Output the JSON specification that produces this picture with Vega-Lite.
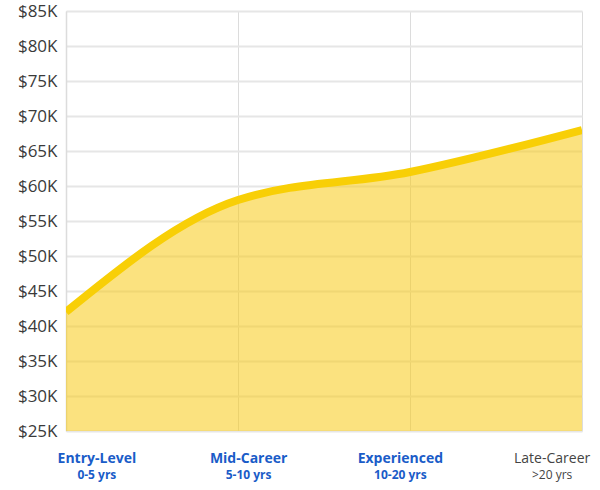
{
  "$schema": "https://vega.github.io/schema/vega-lite/v6.json",
  "width": 516,
  "height": 420,
  "autosize": {"type": "none"},
  "padding": {"left": 66, "top": 11, "right": 18, "bottom": 59},
  "background": "white",
  "config": {
    "font": "Open Sans",
    "view": {"stroke": null},
    "axisY": {
      "title": null,
      "labelOverlap": false,
      "labelFontSize": 17,
      "labelColor": "#3a3a3a",
      "labelPadding": 9,
      "ticks": false,
      "domain": true,
      "domainColor": "#dcdcdc",
      "domainWidth": 1.5,
      "gridColor": "#e6e6e6",
      "gridWidth": 2
    }
  },
  "data": {
    "values": [
      {"stage": "Entry-Level", "years": "0-5 yrs", "salary": 42000},
      {"stage": "Mid-Career", "years": "5-10 yrs", "salary": 58000},
      {"stage": "Experienced", "years": "10-20 yrs", "salary": 62000},
      {"stage": "Late-Career", "years": ">20 yrs", "salary": 68000}
    ]
  },
  "layer": [
    {
      "mark": {
        "type": "area",
        "color": "#F7CB15",
        "opacity": 0.55,
        "interpolate": "monotone",
        "clip": true,
        "line": {"color": "#F8CF06", "strokeWidth": 8, "opacity": 1}
      },
      "encoding": {
        "x": {
          "field": "stage",
          "type": "ordinal",
          "sort": null,
          "scale": {"type": "point", "padding": 0},
          "axis": {
            "orient": "bottom",
            "title": null,
            "domain": false,
            "ticks": false,
            "labels": false,
            "grid": true,
            "gridColor": "#dcdcdc",
            "gridWidth": 1
          }
        },
        "y": {
          "field": "salary",
          "type": "quantitative",
          "scale": {"domain": [25000, 85000]},
          "axis": {
            "values": [25000, 30000, 35000, 40000, 45000, 50000, 55000, 60000, 65000, 70000, 75000, 80000, 85000],
            "labelExpr": "'$' + datum.value / 1000 + 'K'"
          }
        },
        "y2": {"datum": 25000}
      }
    },
    {
      "mark": {"type": "point", "opacity": 0},
      "encoding": {
        "x": {
          "field": "stage",
          "type": "ordinal",
          "sort": null,
          "scale": {"type": "point", "padding": 0.2},
          "axis": {
            "orient": "bottom",
            "title": null,
            "domain": false,
            "ticks": false,
            "grid": false,
            "labelAngle": 0,
            "labelPadding": 20,
            "labelFontSize": 14,
            "labelFont": "Open Sans",
            "labelFontWeight": {"expr": "datum.value == 'Late-Career' ? 'normal' : 'bold'"},
            "labelColor": {"expr": "datum.value == 'Late-Career' ? '#444444' : '#1a5cc8'"},
            "labelOverlap": false,
            "labelBound": false,
            "labelFlush": false
          }
        },
        "y": {
          "field": "salary",
          "type": "quantitative",
          "axis": {
            "values": [25000, 30000, 35000, 40000, 45000, 50000, 55000, 60000, 65000, 70000, 75000, 80000, 85000],
            "labelExpr": "'$' + datum.value / 1000 + 'K'"
          }
        }
      }
    },
    {
      "mark": {"type": "point", "opacity": 0},
      "encoding": {
        "x": {
          "field": "years",
          "type": "ordinal",
          "sort": null,
          "scale": {"type": "point", "padding": 0.2},
          "axis": {
            "orient": "bottom",
            "title": null,
            "domain": false,
            "ticks": false,
            "grid": false,
            "labelAngle": 0,
            "labelPadding": 38,
            "labelFontSize": 12,
            "labelFont": "Open Sans",
            "labelFontWeight": {"expr": "datum.value == '>20 yrs' ? 'normal' : 'bold'"},
            "labelColor": {"expr": "datum.value == '>20 yrs' ? '#444444' : '#1a5cc8'"},
            "labelOverlap": false,
            "labelBound": false,
            "labelFlush": false
          }
        },
        "y": {
          "field": "salary",
          "type": "quantitative",
          "axis": {
            "values": [25000, 30000, 35000, 40000, 45000, 50000, 55000, 60000, 65000, 70000, 75000, 80000, 85000],
            "labelExpr": "'$' + datum.value / 1000 + 'K'"
          }
        }
      }
    }
  ],
  "resolve": {"scale": {"x": "independent"}, "axis": {"x": "independent"}}
}
